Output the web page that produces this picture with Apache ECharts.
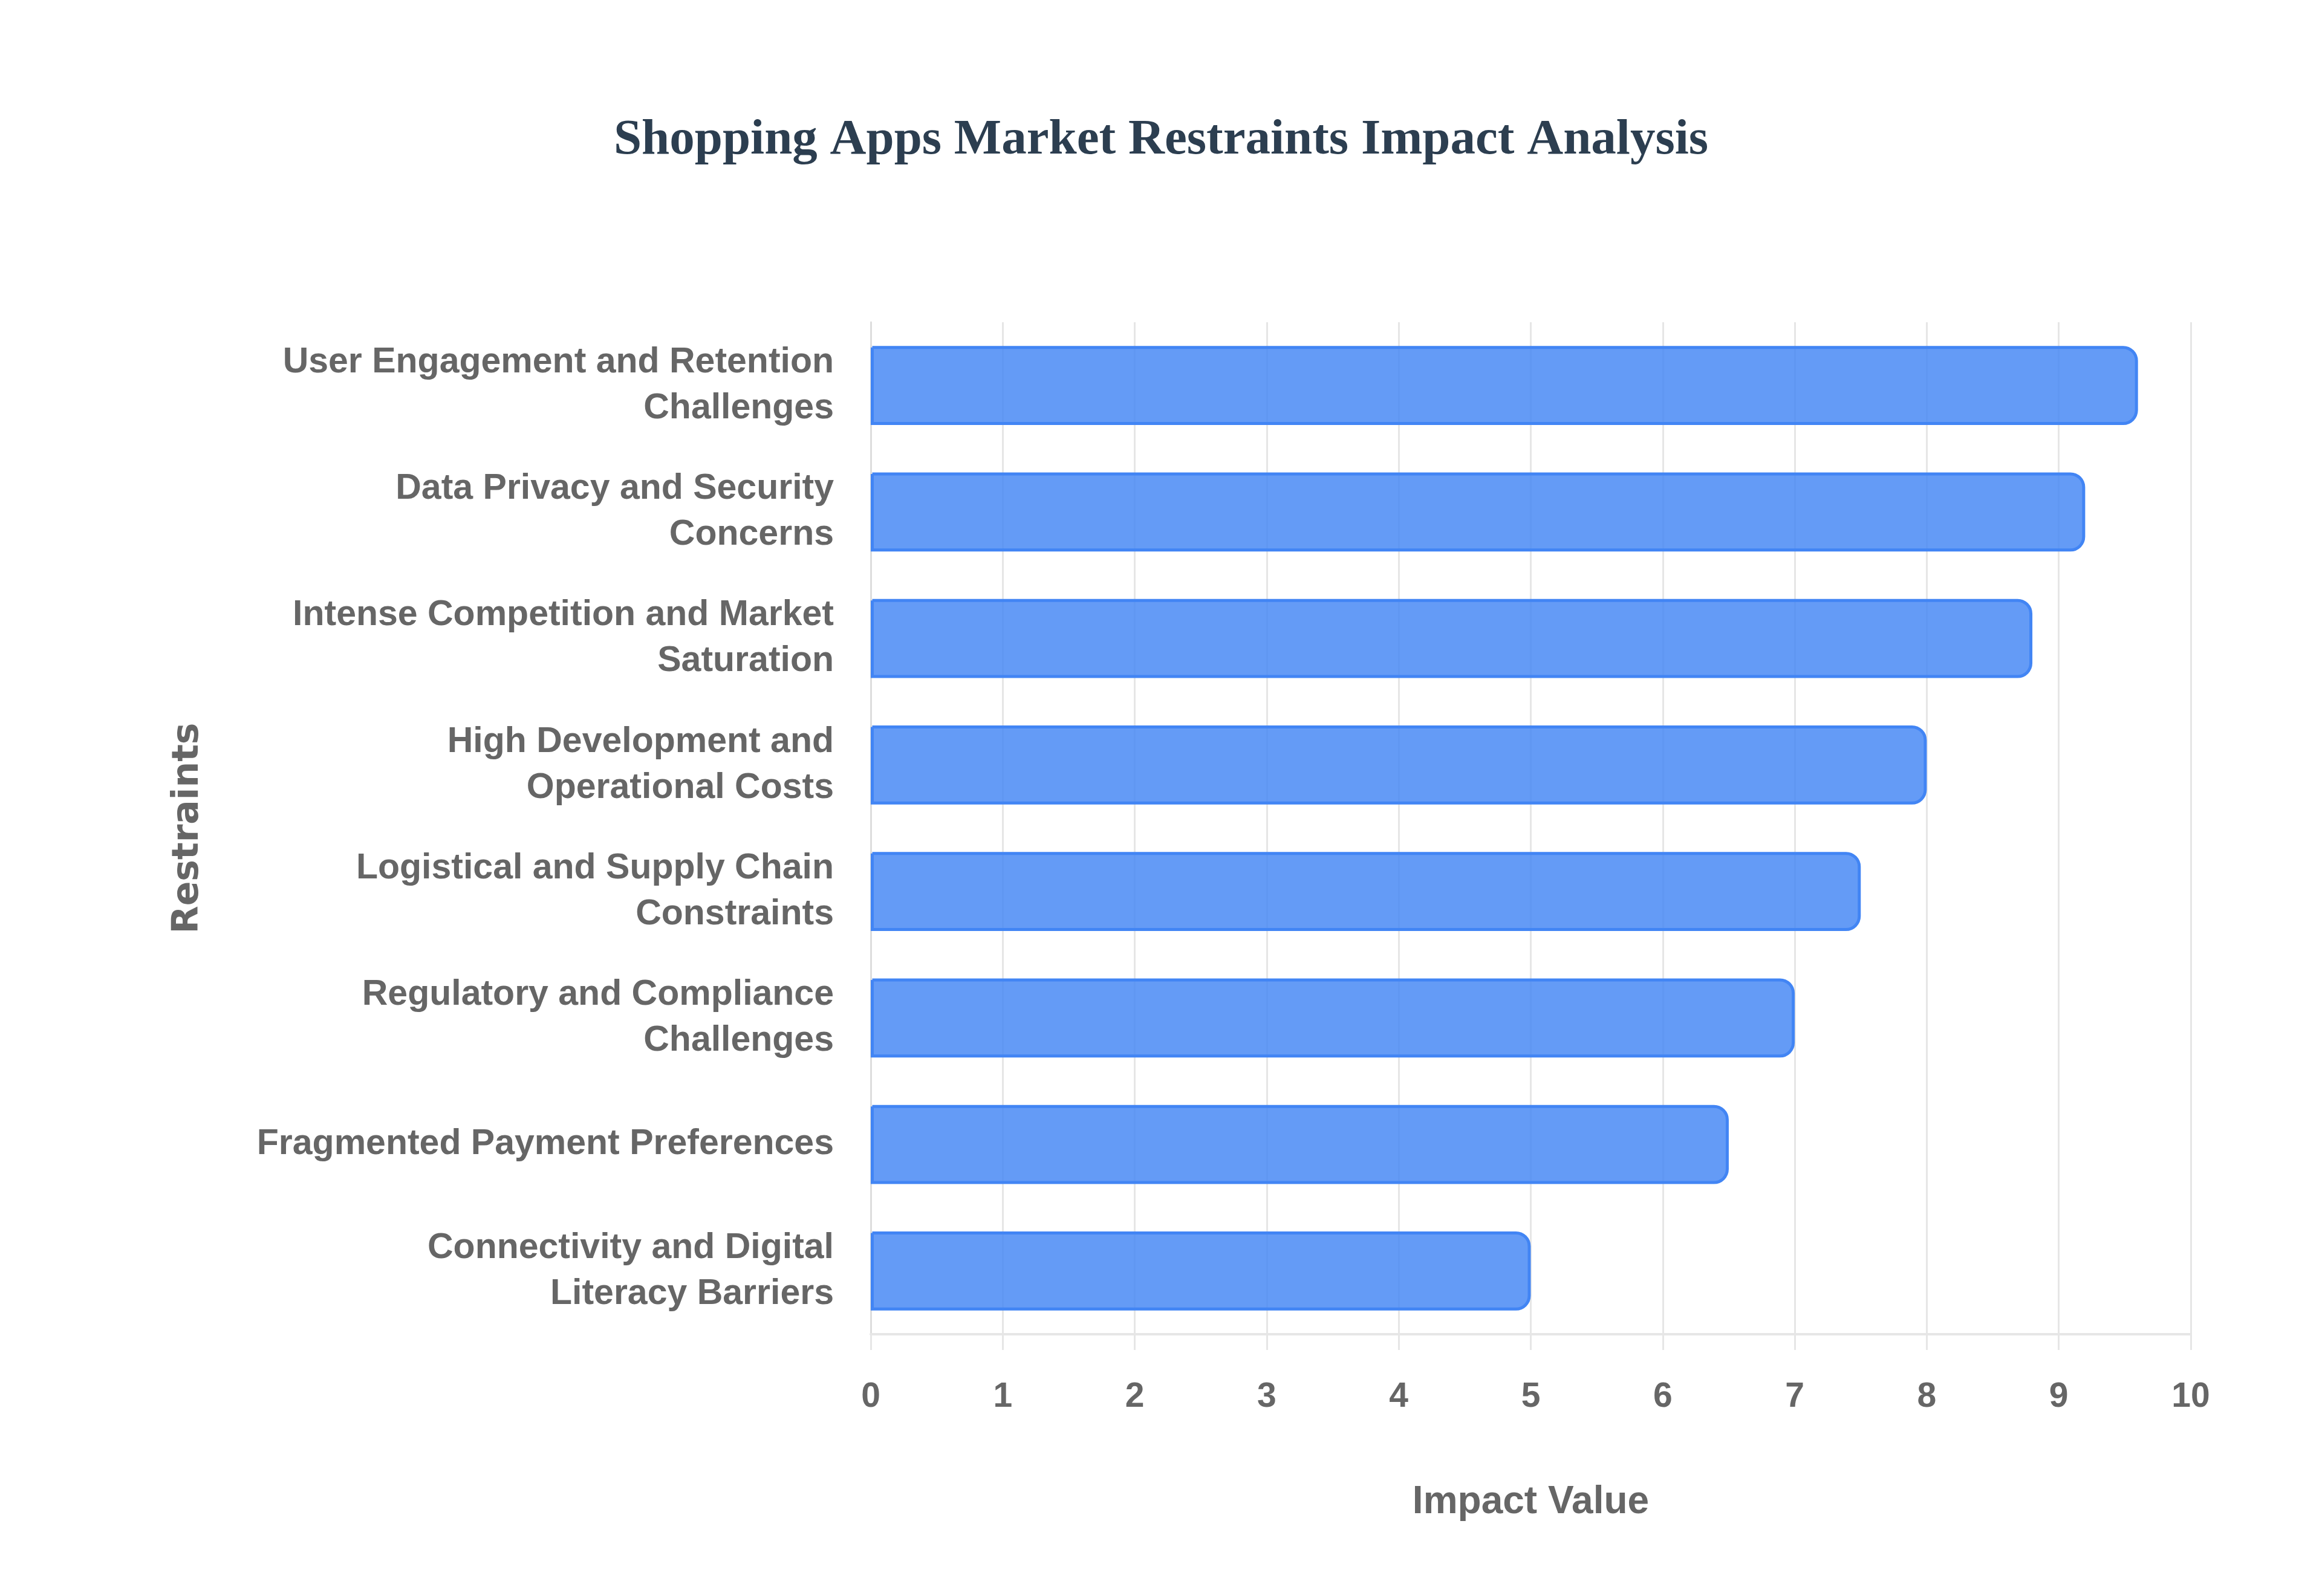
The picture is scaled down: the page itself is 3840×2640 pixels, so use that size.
<!DOCTYPE html>
<html>
<head>
<meta charset="utf-8">
<script src="https://cdn.jsdelivr.net/npm/echarts@6/dist/echarts.min.js"></script>
<style>html,body{margin:0;padding:0;background:#fff;}#c{width:3840px;height:2640px;}</style>
</head>
<body>
<div id="c"></div>
<script>
const titleText = 'Shopping Apps Market Restraints Impact Analysis';
const categories = [
  'User Engagement and Retention\nChallenges',
  'Data Privacy and Security\nConcerns',
  'Intense Competition and Market\nSaturation',
  'High Development and\nOperational Costs',
  'Logistical and Supply Chain\nConstraints',
  'Regulatory and Compliance\nChallenges',
  'Fragmented Payment Preferences',
  'Connectivity and Digital\nLiteracy Barriers'
];
const impactValues = [9.6, 9.2, 8.8, 8.0, 7.5, 7.0, 6.5, 5.0];
const xAxisName = 'Impact Value';
const yAxisName = 'Restraints';

const chart = echarts.init(document.getElementById('c'), null, {renderer: 'canvas', devicePixelRatio: 1});
chart.setOption({
  backgroundColor: '#ffffff',
  animation: false,
  title: {
    text: titleText,
    left: 'center',
    top: 186,
    textStyle: {fontFamily: 'Liberation Serif', fontWeight: 'bold', fontSize: 83, color: '#2c3e50'}
  },
  grid: {left: 1440, right: 217, top: 533, bottom: 433, containLabel: false},
  xAxis: {
    type: 'value',
    min: 0, max: 10, interval: 1,
    name: xAxisName,
    nameLocation: 'middle',
    nameGap: 246,
    nameTextStyle: {fontFamily: 'Liberation Sans', fontWeight: 'bold', fontSize: 64, color: '#666666'},
    axisLine: {show: true, lineStyle: {color: '#e6e6e6', width: 4}},
    axisTick: {show: true, length: 26, lineStyle: {color: '#e6e6e6', width: 3}},
    axisLabel: {margin: 76, fontFamily: 'Liberation Sans', fontWeight: 'bold', fontSize: 57, color: '#666666'},
    splitLine: {show: true, lineStyle: {color: '#e6e6e6', width: 3}}
  },
  yAxis: {
    type: 'category',
    data: categories,
    inverse: true,
    name: yAxisName,
    nameLocation: 'middle',
    nameGap: 1099,
    nameTextStyle: {fontFamily: 'DejaVu Sans', fontWeight: 'bold', fontSize: 60, color: '#666666'},
    axisLine: {show: true, lineStyle: {color: '#dddddd', width: 3}},
    axisTick: {show: false},
    axisLabel: {margin: 61, fontFamily: 'Liberation Sans', fontWeight: 'bold', fontSize: 59, lineHeight: 76, color: '#666666', align: 'right'},
    splitLine: {show: false}
  },
  series: [{
    type: 'bar',
    data: impactValues,
    barCategoryGap: '37.4%',
    itemStyle: {
      color: 'rgba(66,133,244,0.82)',
      borderColor: '#4285f4',
      borderWidth: 5,
      borderRadius: [0, 22, 22, 0]
    }
  }]
});
</script>
</body>
</html>
